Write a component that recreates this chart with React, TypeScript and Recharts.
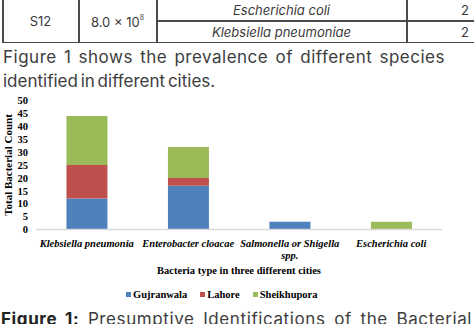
import React from 'react'
import { BarChart, Bar, XAxis, YAxis, Label } from 'recharts'

// bacteria species on the x axis
const categories = [
  'Klebsiella pneumonia',
  'Enterobacter cloacae',
  'Salmonella or Shigella spp.',
  'Escherichia coli',
]

// counts per city
const gujranwala = [12, 17, 3, 0]
const lahore = [13, 3, 0, 0]
const sheikhupora = [19, 12, 0, 3]

const yTicks = [0, 5, 10, 15, 20, 25, 30, 35, 40, 45, 50]

const series = [
  { key: 'Gujranwala', color: '#4F81BD', values: gujranwala },
  { key: 'Lahore', color: '#C0504D', values: lahore },
  { key: 'Sheikhupora', color: '#9BBB59', values: sheikhupora },
]

const data = categories.map((name, i) => {
  const row: any = { name }
  series.forEach((s) => {
    row[s.key] = s.values[i]
  })
  return row
})

const serif = '"Liberation Serif", "Times New Roman", serif'
const sans = 'Inter, "Noto Sans", sans-serif'
const lineColor = '#4a4a4a'

// wraps the long label like the original
const tickLines: Record<string, string[]> = {
  'Salmonella or Shigella spp.': ['Salmonella or Shigella', 'spp.'],
}

function CategoryTick(props: any) {
  const { x, y, payload } = props
  const lines = tickLines[payload.value] || [payload.value]
  return (
    <text
      x={x}
      y={y}
      textAnchor="middle"
      fontFamily={serif}
      fontSize={10.5}
      fontWeight="bold"
      fontStyle="italic"
      fill="#000"
    >
      {lines.map((l, i) => (
        <tspan key={i} x={x} dy={i === 0 ? 9 : 12.5}>
          {l}
        </tspan>
      ))}
    </text>
  )
}

function YTitle(props: any) {
  const { viewBox } = props
  const cx = 8
  const cy = viewBox.y + viewBox.height / 2
  return (
    <text
      x={cx}
      y={cy}
      transform={`rotate(-90, ${cx}, ${cy})`}
      textAnchor="middle"
      dominantBaseline="central"
      fontFamily={serif}
      fontSize={11}
      fontWeight="bold"
      fill="#000"
    >
      Total Bacterial Count
    </text>
  )
}

function Table() {
  const cell = (left: number, width: number, top: number, height: number, text: React.ReactNode, extra: any = {}) => (
    <div
      style={{
        position: 'absolute',
        left,
        top,
        width,
        height,
        display: 'flex',
        alignItems: 'center',
        justifyContent: 'center',
        fontFamily: sans,
        fontSize: 13,
        color: '#3a3a3a',
        ...extra,
      }}
    >
      {text}
    </div>
  )
  const vline = (x: number) => (
    <div style={{ position: 'absolute', left: x, top: 0, width: 1.5, height: 43, background: lineColor }} />
  )
  return (
    <>
      {vline(2)}
      {vline(78)}
      {vline(156)}
      {vline(406)}
      <div style={{ position: 'absolute', left: 156, top: 20, width: 318, height: 1.5, background: lineColor }} />
      <div style={{ position: 'absolute', left: 2, top: 41.5, width: 472, height: 1.5, background: lineColor }} />
      {cell(3, 75, 0, 42, 'S12')}
      {cell(
        79,
        77,
        0,
        42,
        <span>
          8.0 × 10<sup style={{ fontSize: 7, verticalAlign: 7 }}>8</sup>
        </span>
      )}
      {cell(157, 249, 0, 20, 'Escherichia coli', { fontStyle: 'italic' })}
      {cell(157, 249, 21, 21, 'Klebsiella pneumoniae', { fontStyle: 'italic' })}
      {cell(407, 62, 0, 20, '2', { justifyContent: 'flex-end' })}
      {cell(407, 62, 21, 21, '2', { justifyContent: 'flex-end' })}
    </>
  )
}

export default function App() {
  return (
    <div
      style={{
        position: 'absolute',
        left: 0,
        top: 0,
        width: 474,
        height: 324,
        overflow: 'hidden',
        background: '#fff',
      }}
    >
      <Table />

      <div
        style={{
          position: 'absolute',
          left: 3,
          top: 45,
          width: 442,
          fontFamily: sans,
          fontSize: 17,
          lineHeight: '24px',
          letterSpacing: 0.5,
          color: '#3d3d3d',
          textAlign: 'justify',
          textAlignLast: 'justify',
          whiteSpace: 'nowrap',
        }}
      >
        Figure 1 shows the prevalence of different species
      </div>
      <div
        style={{
          position: 'absolute',
          left: 3,
          top: 69,
          fontFamily: sans,
          fontSize: 17,
          lineHeight: '24px',
          color: '#3d3d3d',
          wordSpacing: -2,
          whiteSpace: 'nowrap',
        }}
      >
        identified in different cities.
      </div>

      <div style={{ position: 'absolute', left: 0, top: 0 }}>
        <BarChart
          width={474}
          height={290}
          data={data}
          margin={{ top: 100.5, right: 32, bottom: 0, left: 0 }}
          barCategoryGap="30%"
        >
          <XAxis
            dataKey="name"
            height={60.5}
            interval={0}
            tickLine={false}
            axisLine={{ stroke: '#d9d9d9', strokeWidth: 1.5 }}
            tick={<CategoryTick />}
          >
            <Label
              value="Bacteria type in three different cities"
              position="insideBottom"
              offset={16}
              style={{ fontFamily: serif, fontSize: 10.5, fontWeight: 'bold', fill: '#000' }}
            />
          </XAxis>
          <YAxis
            width={36}
            domain={[0, 50]}
            ticks={yTicks}
            interval={0}
            axisLine={false}
            tickLine={false}
            tickMargin={2}
            tick={{ fontFamily: serif, fontSize: 10.5, fontWeight: 'bold', fill: '#000' }}
          >
            <Label content={<YTitle />} />
          </YAxis>
          {series.map((s) => (
            <Bar key={s.key} dataKey={s.key} stackId="a" fill={s.color} isAnimationActive={false} />
          ))}
        </BarChart>
      </div>

      <div
        style={{
          position: 'absolute',
          left: 126,
          top: 289,
          display: 'flex',
          alignItems: 'center',
          fontFamily: serif,
          fontSize: 10.5,
          fontWeight: 'bold',
          color: '#000',
        }}
      >
        {series.map((s) => (
          <div key={s.key} style={{ display: 'flex', alignItems: 'center', marginRight: 13 }}>
            <span style={{ width: 5, height: 5, background: s.color, marginRight: 2 }} />
            {s.key}
          </div>
        ))}
      </div>

      <div
        style={{
          position: 'absolute',
          left: 1,
          top: 307,
          width: 471,
          fontFamily: sans,
          fontSize: 17,
          lineHeight: '24px',
          letterSpacing: 0.6,
          color: '#3d3d3d',
          textAlign: 'justify',
          textAlignLast: 'justify',
          whiteSpace: 'nowrap',
        }}
      >
        <b style={{ color: '#222' }}>Figure 1:</b> Presumptive Identifications of the Bacterial
      </div>
    </div>
  )
}
